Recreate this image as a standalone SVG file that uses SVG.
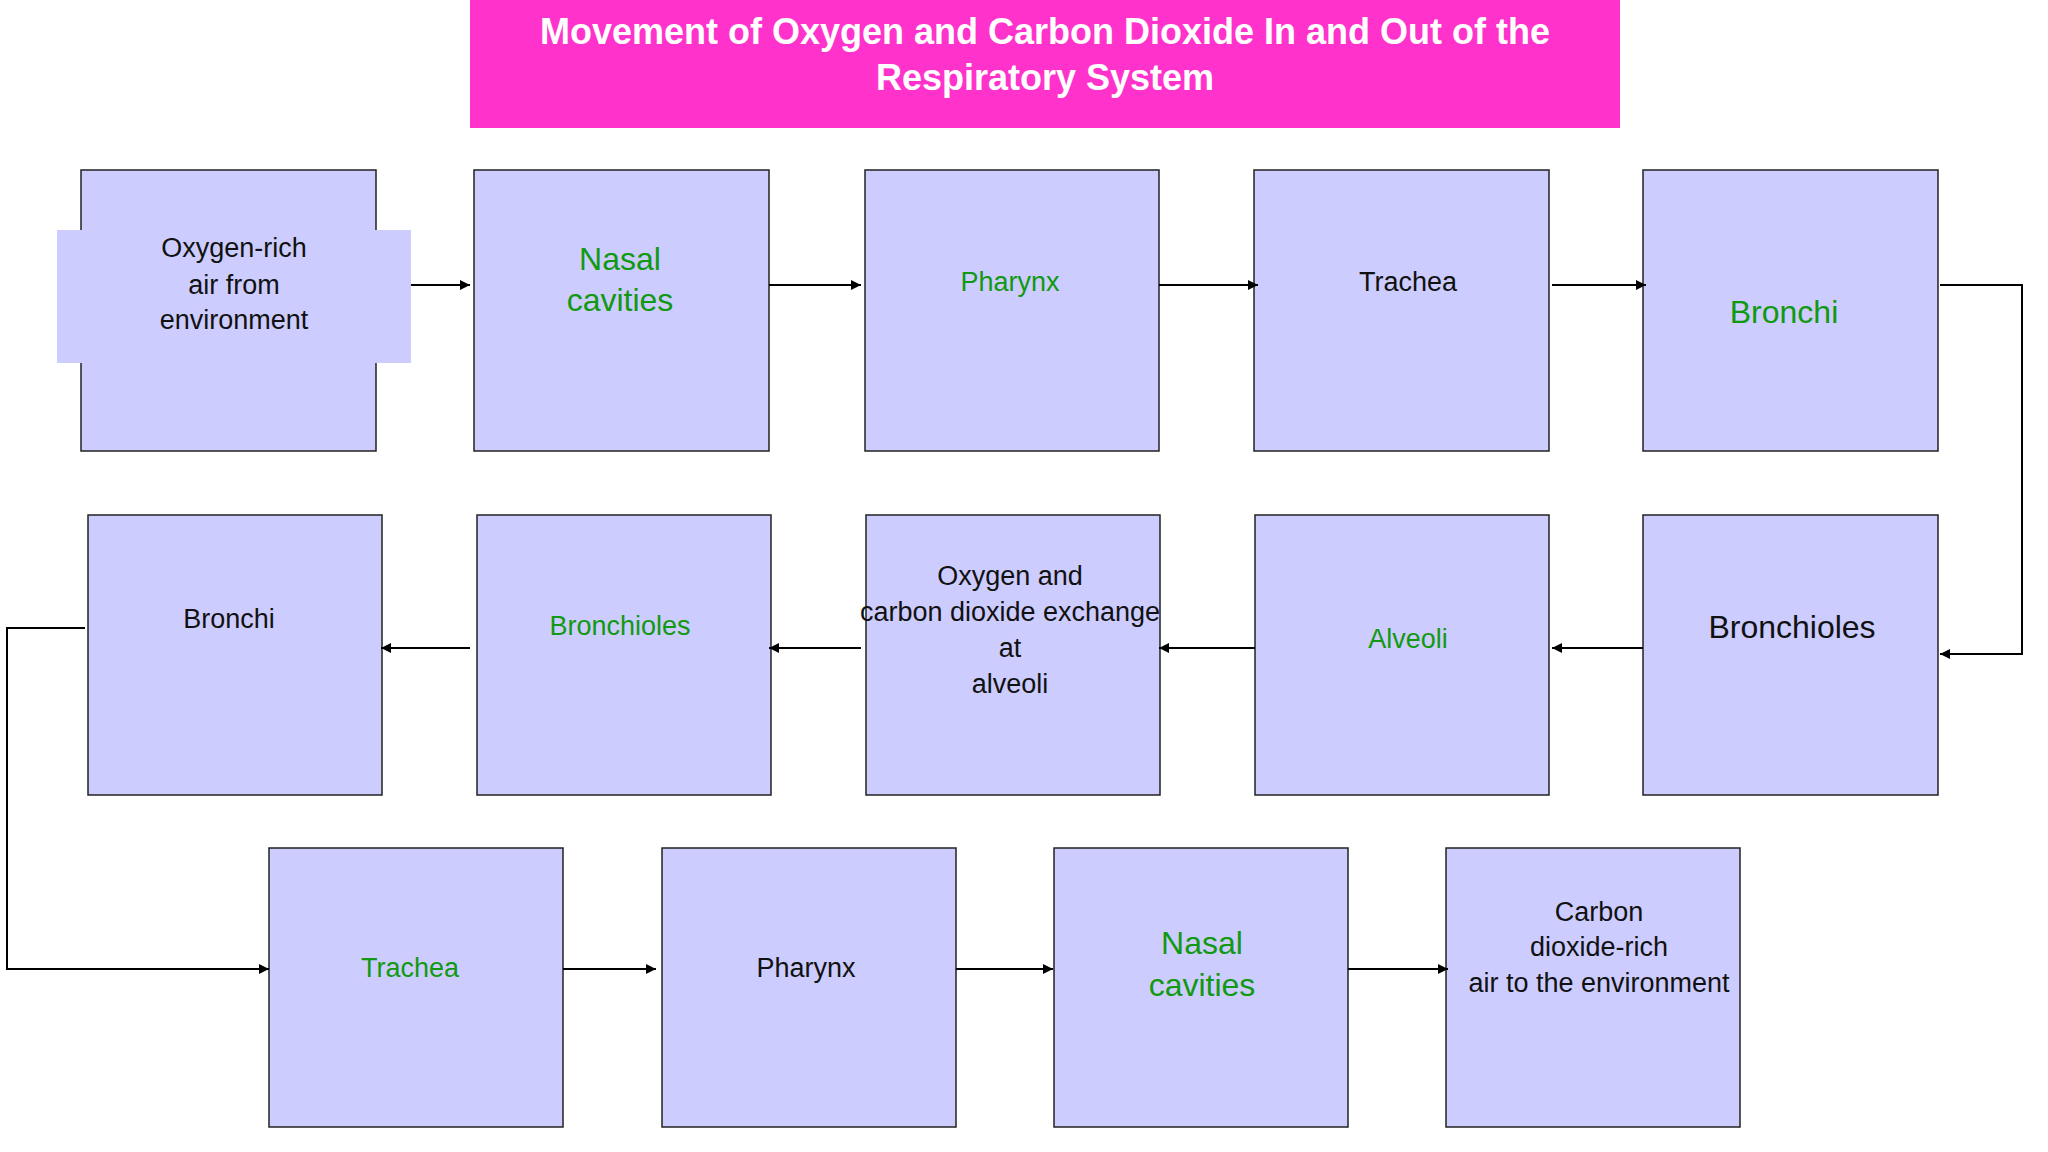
<svg xmlns="http://www.w3.org/2000/svg" width="2048" height="1152" viewBox="0 0 2048 1152">
<style>
.b{fill:#ccccff;stroke:#222;stroke-width:1.5}
.t{font-family:"Liberation Sans",Arial,sans-serif;font-size:27px;text-anchor:middle;dominant-baseline:central;fill:#111}
.g{fill:#119911}
.L{font-size:32px}
.c{fill:none;stroke:#000;stroke-width:2;marker-end:url(#a)}
</style>
<defs><marker id="a" viewBox="0 0 10 10" refX="10" refY="5" markerWidth="5" markerHeight="5" orient="auto"><path d="M0,0L10,5L0,10z" fill="#000"/></marker></defs>
<rect width="2048" height="1152" fill="#fff"/>
<g id="title"><rect x="470" y="0" width="1150" height="128" fill="#ff33cc"/>
<text class="t" x="1045" y="31" style="font-size:36px;font-weight:bold;fill:#fff">Movement of Oxygen and Carbon Dioxide In and Out of the</text>
<text class="t" x="1045" y="77" style="font-size:36px;font-weight:bold;fill:#fff">Respiratory System</text></g>
<g id="n1"><rect class="b" x="81" y="170" width="295" height="281"/><rect x="57" y="230" width="354" height="133" fill="#ccccff"/>
<text class="t" x="234" y="248">Oxygen-rich</text><text class="t" x="234" y="285">air from</text><text class="t" x="234" y="320">environment</text></g>
<g id="n2"><rect class="b" x="474" y="170" width="295" height="281"/><text class="t g L" x="620" y="259">Nasal</text><text class="t g L" x="620" y="300">cavities</text></g>
<g id="n3"><rect class="b" x="865" y="170" width="294" height="281"/><text class="t g" x="1010" y="282">Pharynx</text></g>
<g id="n4"><rect class="b" x="1254" y="170" width="295" height="281"/><text class="t" x="1408" y="282">Trachea</text></g>
<g id="n5"><rect class="b" x="1643" y="170" width="295" height="281"/><text class="t g L" x="1784" y="312">Bronchi</text></g>
<g id="n6"><rect class="b" x="1643" y="515" width="295" height="280"/><text class="t L" x="1792" y="627">Bronchioles</text></g>
<g id="n7"><rect class="b" x="1255" y="515" width="294" height="280"/><text class="t g" x="1408" y="639">Alveoli</text></g>
<g id="n8"><rect class="b" x="866" y="515" width="294" height="280"/>
<text class="t" x="1010" y="576">Oxygen and</text><text class="t" x="1010" y="612">carbon dioxide exchange</text><text class="t" x="1010" y="648">at</text><text class="t" x="1010" y="684">alveoli</text></g>
<g id="n9"><rect class="b" x="477" y="515" width="294" height="280"/><text class="t g" x="620" y="626">Bronchioles</text></g>
<g id="n10"><rect class="b" x="88" y="515" width="294" height="280"/><text class="t" x="229" y="619">Bronchi</text></g>
<g id="n11"><rect class="b" x="269" y="848" width="294" height="279"/><text class="t g" x="410" y="968">Trachea</text></g>
<g id="n12"><rect class="b" x="662" y="848" width="294" height="279"/><text class="t" x="806" y="968">Pharynx</text></g>
<g id="n13"><rect class="b" x="1054" y="848" width="294" height="279"/><text class="t g L" x="1202" y="943">Nasal</text><text class="t g L" x="1202" y="985">cavities</text></g>
<g id="n14"><rect class="b" x="1446" y="848" width="294" height="279"/>
<text class="t" x="1599" y="912">Carbon</text><text class="t" x="1599" y="947">dioxide-rich</text><text class="t" x="1599" y="983">air to the environment</text></g>
<g id="connectors">
<path class="c" d="M411,285H470"/><path class="c" d="M769,285H861"/><path class="c" d="M1159,285H1258"/><path class="c" d="M1552,285H1646"/>
<path class="c" d="M1940,285H2022V654H1940"/>
<path class="c" d="M1643,648H1552"/><path class="c" d="M1255,648H1159"/><path class="c" d="M861,648H769"/><path class="c" d="M470,648H381"/>
<path class="c" d="M85,628H7V969H269"/>
<path class="c" d="M563,969H656"/><path class="c" d="M956,969H1053"/><path class="c" d="M1348,969H1448"/>
</g>
</svg>
